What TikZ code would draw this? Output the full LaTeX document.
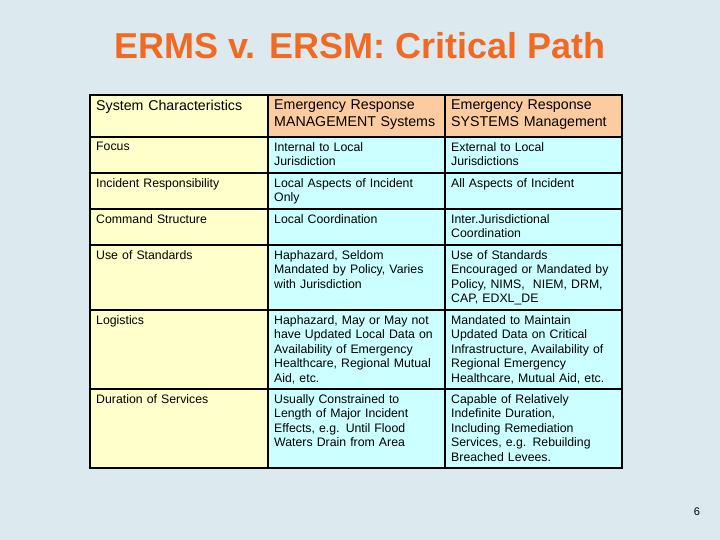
\documentclass[tikz,border=0pt]{standalone}
\usepackage{fontspec}
\setmainfont{Liberation Sans}
\definecolor{ttl}{HTML}{F26A22}
\definecolor{cyanc}{HTML}{CCFFFF}
\definecolor{yelc}{HTML}{FFFFCC}
\definecolor{peach}{HTML}{FCCCA0}
\definecolor{bgc}{HTML}{DCE9EE}
\newcommand\mkcell[8][body]{%
  \node[cellbox,fill=#7,minimum width=#5,minimum height=#6] (#2) at (#3,#4) {};
  \node[celltext,#1,text width=#5-8] (#2t) at ([xshift=6,yshift=-5]#2.north west) {#8};}
\begin{document}
\begin{tikzpicture}[x=1pt,y=-1pt,
  cellbox/.style={draw=black,line width=2pt,anchor=north west,inner sep=0pt,outer sep=0pt},
  celltext/.style={anchor=north west,inner sep=0pt,align=left},
  body/.style={font=\fontsize{12.3}{14.6}\selectfont},
  hd/.style={font=\fontsize{14.2}{17}\selectfont}]
\fill[bgc] (0,0) rectangle (720,540);
\useasboundingbox (0,0) rectangle (720,540);
\node[font=\bfseries\fontsize{36}{40}\selectfont,text=ttl] (title) at (360,46) {ERMS v. ERSM: Critical Path};
\mkcell[hd]{h1}{90}{95}{178}{42}{yelc}{System Characteristics}
\mkcell[hd]{h2}{268}{95}{177}{42}{peach}{Emergency Response\\MANAGEMENT Systems}
\mkcell[hd]{h3}{445}{95}{177}{42}{peach}{Emergency Response\\SYSTEMS Management}
\mkcell{a1}{90}{137}{178}{36}{yelc}{Focus}
\mkcell{a2}{268}{137}{177}{36}{cyanc}{Internal to Local\\Jurisdiction}
\mkcell{a3}{445}{137}{177}{36}{cyanc}{External to Local\\Jurisdictions}
\mkcell{b1}{90}{173}{178}{36}{yelc}{Incident Responsibility}
\mkcell{b2}{268}{173}{177}{36}{cyanc}{Local Aspects of Incident\\Only}
\mkcell{b3}{445}{173}{177}{36}{cyanc}{All Aspects of Incident}
\mkcell{c1}{90}{209}{178}{36}{yelc}{Command Structure}
\mkcell{c2}{268}{209}{177}{36}{cyanc}{Local Coordination}
\mkcell{c3}{445}{209}{177}{36}{cyanc}{Inter.Jurisdictional\\Coordination}
\mkcell{d1}{90}{245}{178}{65}{yelc}{Use of Standards}
\mkcell{d2}{268}{245}{177}{65}{cyanc}{Haphazard, Seldom\\Mandated by Policy, Varies\\with Jurisdiction}
\mkcell{d3}{445}{245}{177}{65}{cyanc}{Use of Standards\\Encouraged or Mandated by\\Policy, NIMS,\ \ NIEM, DRM,\\CAP, EDXL\_DE}
\mkcell{e1}{90}{310}{178}{79}{yelc}{Logistics}
\mkcell{e2}{268}{310}{177}{79}{cyanc}{Haphazard, May or May not\\have Updated Local Data on\\Availability of Emergency\\Healthcare, Regional Mutual\\Aid, etc.}
\mkcell{e3}{445}{310}{177}{79}{cyanc}{Mandated to Maintain\\Updated Data on Critical\\Infrastructure, Availability of\\Regional Emergency\\Healthcare, Mutual Aid, etc.}
\mkcell{f1}{90}{389}{178}{79}{yelc}{Duration of Services}
\mkcell{f2}{268}{389}{177}{79}{cyanc}{Usually Constrained to\\Length of Major Incident\\Effects, e.g. Until Flood\\Waters Drain from Area}
\mkcell{f3}{445}{389}{177}{79}{cyanc}{Capable of Relatively\\Indefinite Duration,\\Including Remediation\\Services, e.g. Rebuilding\\Breached Levees.}
\node[font=\fontsize{11}{13}\selectfont] (pg) at (697,512) {6};
\end{tikzpicture}
\end{document}
